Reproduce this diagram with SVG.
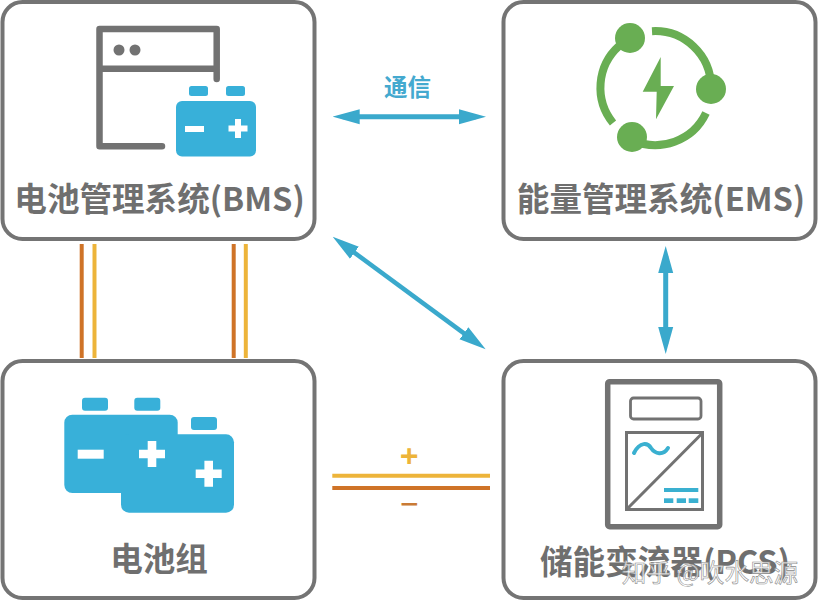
<svg xmlns="http://www.w3.org/2000/svg" width="819" height="607" viewBox="0 0 819 607">
<style>
.box{fill:#fff;stroke:#747474;stroke-width:4}
.title{font-family:"Noto Sans CJK SC","Noto Sans",sans-serif;font-weight:700;font-size:32.600px;fill:#6f6f6f;text-anchor:middle}
.gline{fill:none;stroke:#727272;stroke-linecap:round;stroke-linejoin:round}
.blue{fill:#38b0d9}
.white{fill:#fff}
.green{fill:#69ae53}
.arc{fill:none;stroke:#69ae53;stroke-width:8}
.link{stroke:#3aa9cc;fill:none;stroke-width:5;marker-start:url(#head);marker-end:url(#head)}
.or{stroke:#cf7327;stroke-width:4;fill:none}
.ye{stroke:#edb43a;stroke-width:4;fill:none}
.wave{fill:none;stroke:#3ab0d0;stroke-width:4;stroke-linecap:round}
.dc{fill:#3ab0d0}
</style>
<defs>
<marker id="head" markerUnits="userSpaceOnUse" viewBox="0 0 27 16" refX="17" refY="8" markerWidth="27" markerHeight="16" orient="auto-start-reverse">
<path d="M0 0.500L27 8L0 15.500Z" fill="#3aa9cc"/>
</marker>
</defs>
<rect width="819" height="607" fill="#fff"/>
<g id="connectors">
<line class="link" x1="342.700" y1="116.700" x2="476" y2="116.700"/>
<line class="link" x1="340.750" y1="242.600" x2="477.600" y2="343.400" style="stroke-width:4.500"/>
<line class="link" x1="665.700" y1="256" x2="665.700" y2="344"/>
<line class="or" x1="81.700" y1="244" x2="81.700" y2="358"/>
<line class="ye" x1="94.500" y1="244" x2="94.500" y2="358"/>
<line class="or" x1="233.700" y1="244" x2="233.700" y2="358"/>
<line class="ye" x1="245.800" y1="244" x2="245.800" y2="358"/>
<line class="ye" x1="332.300" y1="475.700" x2="490" y2="475.700"/>
<line class="or" x1="332.300" y1="488" x2="490" y2="488"/>
<text x="407.500" y="95.500" text-anchor="middle" font-family="Noto Sans CJK SC,sans-serif" font-weight="700" font-size="23.500" fill="#44a9cf">通信</text>
<text x="409.300" y="468" text-anchor="middle" font-family="Noto Sans,sans-serif" font-weight="700" font-size="33" fill="#edb43a">+</text>
<text x="409.500" y="515.500" text-anchor="middle" font-family="Noto Sans,sans-serif" font-weight="400" font-size="33" fill="#c97a35">−</text>
</g>
<g id="bms">
<rect class="box" x="2.500" y="2" width="312" height="237" rx="20"/>
<path class="gline" stroke-width="6.500" d="M162 146.300H99.500V29H216.700V79M99.500 68.700H216.700"/>
<circle cx="119" cy="50" r="5.500" fill="#727272"/>
<circle cx="135" cy="50" r="5.500" fill="#727272"/>
<rect class="blue" x="189" y="86" width="19" height="10" rx="2.500"/>
<rect class="blue" x="226" y="86" width="19" height="10" rx="2.500"/>
<rect class="blue" x="176" y="101" width="80" height="55.500" rx="6"/>
<rect class="white" x="185" y="126" width="19" height="6"/>
<path class="white" d="M235 119h6v6.500h6.500v6h-6.500v6.500h-6v-6.500h-6.500v-6h6.500z"/>
<text class="title" x="159.500" y="210.500">电池管理系统(BMS)</text>
</g>
<g id="ems">
<rect class="box" x="503.500" y="2" width="312" height="237" rx="20"/>
<path class="arc" d="M619 46A56 56 0 0 0 613 123"/>
<path class="arc" d="M652 31.200A56 56 0 0 1 711 87"/>
<path class="arc" d="M706 113A56 56 0 0 1 632 140"/>
<circle class="green" cx="630" cy="38" r="15"/>
<circle class="green" cx="711" cy="89" r="15"/>
<circle class="green" cx="632" cy="137" r="15"/>
<path class="green" d="M660.700 57L642.700 91.700H656.700L656 119.300L674 86H660.700Z"/>
<text class="title" x="661" y="210.500">能量管理系统(EMS)</text>
</g>
<g id="battery-pack">
<rect class="box" x="2.500" y="361" width="312" height="237" rx="20"/>
<rect class="blue" x="82" y="397.700" width="26" height="13" rx="3"/>
<rect class="blue" x="134.300" y="397.700" width="26" height="13" rx="3"/>
<rect class="blue" x="191" y="417" width="26" height="13" rx="3"/>
<rect class="blue" x="64.300" y="414.700" width="113.400" height="78.300" rx="8"/>
<rect class="blue" x="121" y="434.300" width="113" height="78.400" rx="8"/>
<rect class="white" x="77.700" y="449.700" width="26" height="9"/>
<path class="white" d="M147.700 441h8.600v8.700h8.700v8.600h-8.700v8.700h-8.600v-8.700h-8.700v-8.600h8.700z"/>
<path class="white" d="M204.400 460.700h8.600v8.700h8.700v8.600h-8.700v8.700h-8.600v-8.700h-8.700v-8.600h8.700z"/>
<text class="title" x="159" y="571">电池组</text>
</g>
<g id="pcs">
<rect class="box" x="503.500" y="361" width="312" height="237" rx="20"/>
<rect x="607.700" y="381.700" width="112" height="145" rx="2" fill="none" stroke="#727272" stroke-width="5.500"/>
<rect x="630.500" y="398" width="70.500" height="21" rx="3" fill="none" stroke="#727272" stroke-width="2.800"/>
<rect x="626.500" y="432.500" width="76" height="77" fill="none" stroke="#727272" stroke-width="3"/>
<line x1="702.500" y1="433" x2="627" y2="509" stroke="#727272" stroke-width="3"/>
<path class="wave" d="M634 453C640 441 648 443 651 448C655 454 663 456 668 448"/>
<rect class="dc" x="664" y="488" width="34.300" height="4"/>
<rect class="dc" x="664" y="498.300" width="9.300" height="4.700"/>
<rect class="dc" x="676.700" y="498.300" width="9.300" height="4.700"/>
<rect class="dc" x="688.700" y="498.300" width="9.600" height="4.700"/>
<text class="title" x="665" y="574">储能变流器(PCS)</text>
<text x="710" y="582" text-anchor="middle" font-family="Noto Sans CJK SC,sans-serif" font-size="24.600" fill="#fff" fill-opacity="0.75" stroke="#8a8a8a" stroke-width="0.6">知乎 @吹水思源</text>
</g>
</svg>
